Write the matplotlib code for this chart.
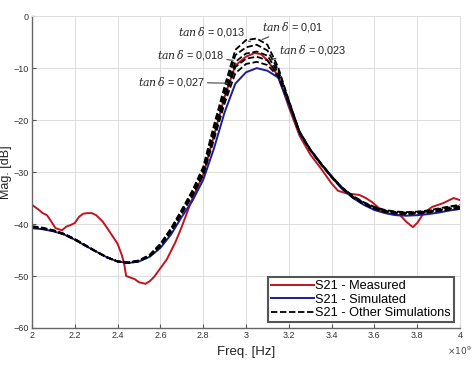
import matplotlib
matplotlib.use("Agg")
import matplotlib.pyplot as plt
from matplotlib.ticker import FuncFormatter

plt.rcParams['font.family'] = ['Liberation Sans', 'DejaVu Sans']
plt.rcParams['mathtext.fontset'] = 'dejavuserif'

# frequency grid in GHz (axis shows x 10^9 Hz)
freq = [2.00, 2.05, 2.10, 2.15, 2.20, 2.25, 2.30, 2.35, 2.40, 2.45,
        2.50, 2.55, 2.60, 2.65, 2.70, 2.75, 2.80, 2.85, 2.90, 2.95,
        3.00, 3.05, 3.10, 3.15, 3.20, 3.25, 3.30, 3.35, 3.40, 3.45,
        3.50, 3.55, 3.60, 3.65, 3.70, 3.75, 3.80, 3.85, 3.90, 3.95, 4.00]

s21_simulated = [-40.8, -41.0, -41.4, -42.0, -43.0, -44.2, -45.3, -46.4, -47.2, -47.5,
                 -47.2, -46.3, -44.6, -42.0, -38.6, -35.5, -31.5, -25.5, -18.5, -13.0,
                 -10.8, -10.0, -10.5, -11.8, -17.0, -22.5, -25.8, -28.5, -31.0, -33.3,
                 -35.0, -36.3, -37.3, -37.9, -38.3, -38.4, -38.3, -38.1, -37.8, -37.4, -37.1]

# other simulations, one per loss tangent
tan_d = ['0,01', '0,013', '0,018', '0,023', '0,027']
sim_001 = [-40.4, -40.7, -41.2, -41.9, -42.9, -44.1, -45.3, -46.4, -47.2, -47.4,
           -47.0, -45.9, -43.8, -40.8, -37.2, -33.5, -29.0, -21.0, -13.5, -6.5,
           -4.6, -4.3, -5.5, -9.8, -16.2, -22.2, -25.6, -28.3, -30.8, -33.0,
           -34.6, -35.8, -36.7, -37.3, -37.6, -37.7, -37.6, -37.4, -37.0, -36.6, -36.3]
sim_0013 = [-40.5, -40.8, -41.2, -41.9, -42.9, -44.1, -45.3, -46.4, -47.2, -47.4,
            -47.0, -46.0, -43.9, -40.9, -37.4, -33.7, -29.4, -21.8, -14.5, -7.5,
            -6.0, -5.5, -6.6, -10.3, -16.3, -22.2, -25.6, -28.3, -30.8, -33.0,
            -34.7, -35.9, -36.8, -37.4, -37.7, -37.8, -37.7, -37.5, -37.1, -36.8, -36.5]
sim_0018 = [-40.5, -40.8, -41.3, -41.9, -42.9, -44.1, -45.3, -46.4, -47.2, -47.4,
            -47.1, -46.0, -44.0, -41.1, -37.6, -34.0, -29.8, -22.5, -15.3, -8.8,
            -7.2, -6.8, -7.6, -10.8, -16.5, -22.3, -25.7, -28.4, -30.9, -33.1,
            -34.8, -36.0, -36.9, -37.5, -37.8, -37.9, -37.8, -37.6, -37.3, -37.0, -36.7]
sim_0023 = [-40.6, -40.9, -41.3, -42.0, -43.0, -44.1, -45.3, -46.4, -47.2, -47.5,
            -47.1, -46.1, -44.2, -41.3, -37.8, -34.3, -30.2, -23.1, -16.0, -9.8,
            -8.2, -7.8, -8.5, -11.2, -16.6, -22.4, -25.7, -28.4, -30.9, -33.2,
            -34.9, -36.1, -37.0, -37.6, -37.9, -38.0, -37.9, -37.7, -37.4, -37.2, -36.9]
sim_0027 = [-40.6, -40.9, -41.3, -42.0, -43.0, -44.2, -45.3, -46.4, -47.2, -47.5,
            -47.2, -46.2, -44.3, -41.5, -38.0, -34.6, -30.6, -23.8, -16.8, -11.0,
            -9.2, -8.8, -9.4, -11.6, -16.7, -22.4, -25.8, -28.5, -31.0, -33.2,
            -34.9, -36.2, -37.1, -37.7, -38.0, -38.1, -38.0, -37.8, -37.5, -37.3, -37.0]
other_sims = [sim_001, sim_0013, sim_0018, sim_0023, sim_0027]

# measured S21 (own, non-uniform frequency points)
freq_meas = [2.00, 2.03, 2.05, 2.07, 2.085, 2.11, 2.14, 2.16, 2.18, 2.20,
             2.22, 2.24, 2.26, 2.28, 2.30, 2.33, 2.36, 2.40, 2.42, 2.43,
             2.44, 2.46, 2.48, 2.50, 2.53, 2.55, 2.57, 2.60, 2.63, 2.67,
             2.70, 2.75, 2.80, 2.85, 2.90, 2.95, 3.00, 3.04, 3.07, 3.10,
             3.15, 3.20, 3.25, 3.30, 3.35, 3.40, 3.43, 3.47, 3.53, 3.56,
             3.59, 3.62, 3.64, 3.68, 3.72, 3.75, 3.78, 3.80, 3.83, 3.87,
             3.92, 3.97, 4.00]
s21_measured = [-36.3, -37.2, -37.9, -38.3, -39.2, -40.8, -41.2, -40.5, -40.2, -39.8,
                -38.6, -38.0, -37.9, -37.9, -38.3, -39.5, -41.3, -43.8, -46.0, -47.5,
                -50.0, -50.3, -50.6, -51.2, -51.5, -51.0, -50.2, -48.5, -46.8, -43.5,
                -40.5, -35.0, -30.5, -23.0, -15.5, -9.5, -7.8, -7.1, -7.3, -8.5,
                -11.5, -17.5, -23.0, -26.6, -29.3, -32.2, -33.6, -34.1, -34.4, -35.0,
                -35.8, -36.9, -37.7, -38.1, -38.3, -39.6, -40.6, -39.8, -37.9, -36.7,
                -36.0, -35.0, -35.4]

# labels: (text pos x, y), (curve point x, y)
label_text = [(3.22, -2.1), (2.84, -3.1), (2.74, -7.5), (3.31, -6.5), (2.65, -12.7)]
label_point = [(3.075, -4.5), (3.02, -4.9), (2.94, -8.5), (3.12, -8.3), (2.915, -12.9)]

fig = plt.figure(figsize=(4.74, 3.67), dpi=100)
ax = fig.add_axes([0.0675, 0.1063, 0.903, 0.8497])

ax.plot(freq_meas, s21_measured, color='#c0141e', lw=1.4, label='S21 - Measured')
ax.plot(freq, s21_simulated, color='#1c1c9c', lw=1.4, label='S21 - Simulated')
for i, sim in enumerate(other_sims):
    ax.plot(freq, sim, color='black', lw=1.3, linestyle=(0, (3.5, 1.5)),
            label='S21 - Other Simulations' if i == 0 else None)

for t, (tx, ty), (px, py) in zip(tan_d, label_text, label_point):
    ax.annotate(r'$tan\,\delta$' + ' = ' + t, xy=(px, py), xytext=(tx, ty),
                ha='center', va='center', fontsize=7.8, color='#222222',
                arrowprops=dict(arrowstyle='-', color='#444444', lw=0.8,
                                shrinkA=0, shrinkB=0))

ax.set_xlim(2, 4)
ax.set_ylim(-60, 0)
ax.set_xticks([2, 2.2, 2.4, 2.6, 2.8, 3, 3.2, 3.4, 3.6, 3.8, 4])
ax.set_yticks([0, -10, -20, -30, -40, -50, -60])
ax.xaxis.set_major_formatter(FuncFormatter(lambda v, p: '%g' % v))
ax.tick_params(direction='in', length=3, labelsize=6.5, colors='#555555',
               labelcolor='#333333', pad=2.5)
ax.grid(True, color='#dcdcdc', lw=0.7)
ax.set_axisbelow(True)
for side in ['left', 'bottom']:
    ax.spines[side].set_color('#666666')
    ax.spines[side].set_linewidth(1.0)
for side in ['top', 'right']:
    ax.spines[side].set_color('#dddddd')
    ax.spines[side].set_linewidth(0.7)

ax.set_xlabel('Freq. [Hz]', fontsize=9.5, color='#222222', labelpad=4)
ax.set_ylabel('Mag. [dB]', fontsize=9, color='#222222', va='center')
ax.yaxis.set_label_coords(-0.06, 0.5)
fig.text(0.943, 0.032, r'$\times10^{9}$', fontsize=6.5, color='#444444',
         family='DejaVu Sans', math_fontfamily='dejavusans')

leg = ax.legend(loc='lower right', fontsize=9.2, handlelength=3.4, handletextpad=0.1,
                borderpad=0.25, labelspacing=0.1, fancybox=False, framealpha=1,
                borderaxespad=0.45)
leg.get_frame().set_edgecolor('#555555')
leg.get_frame().set_linewidth(1.5)

fig.savefig('out.png', dpi=100)
